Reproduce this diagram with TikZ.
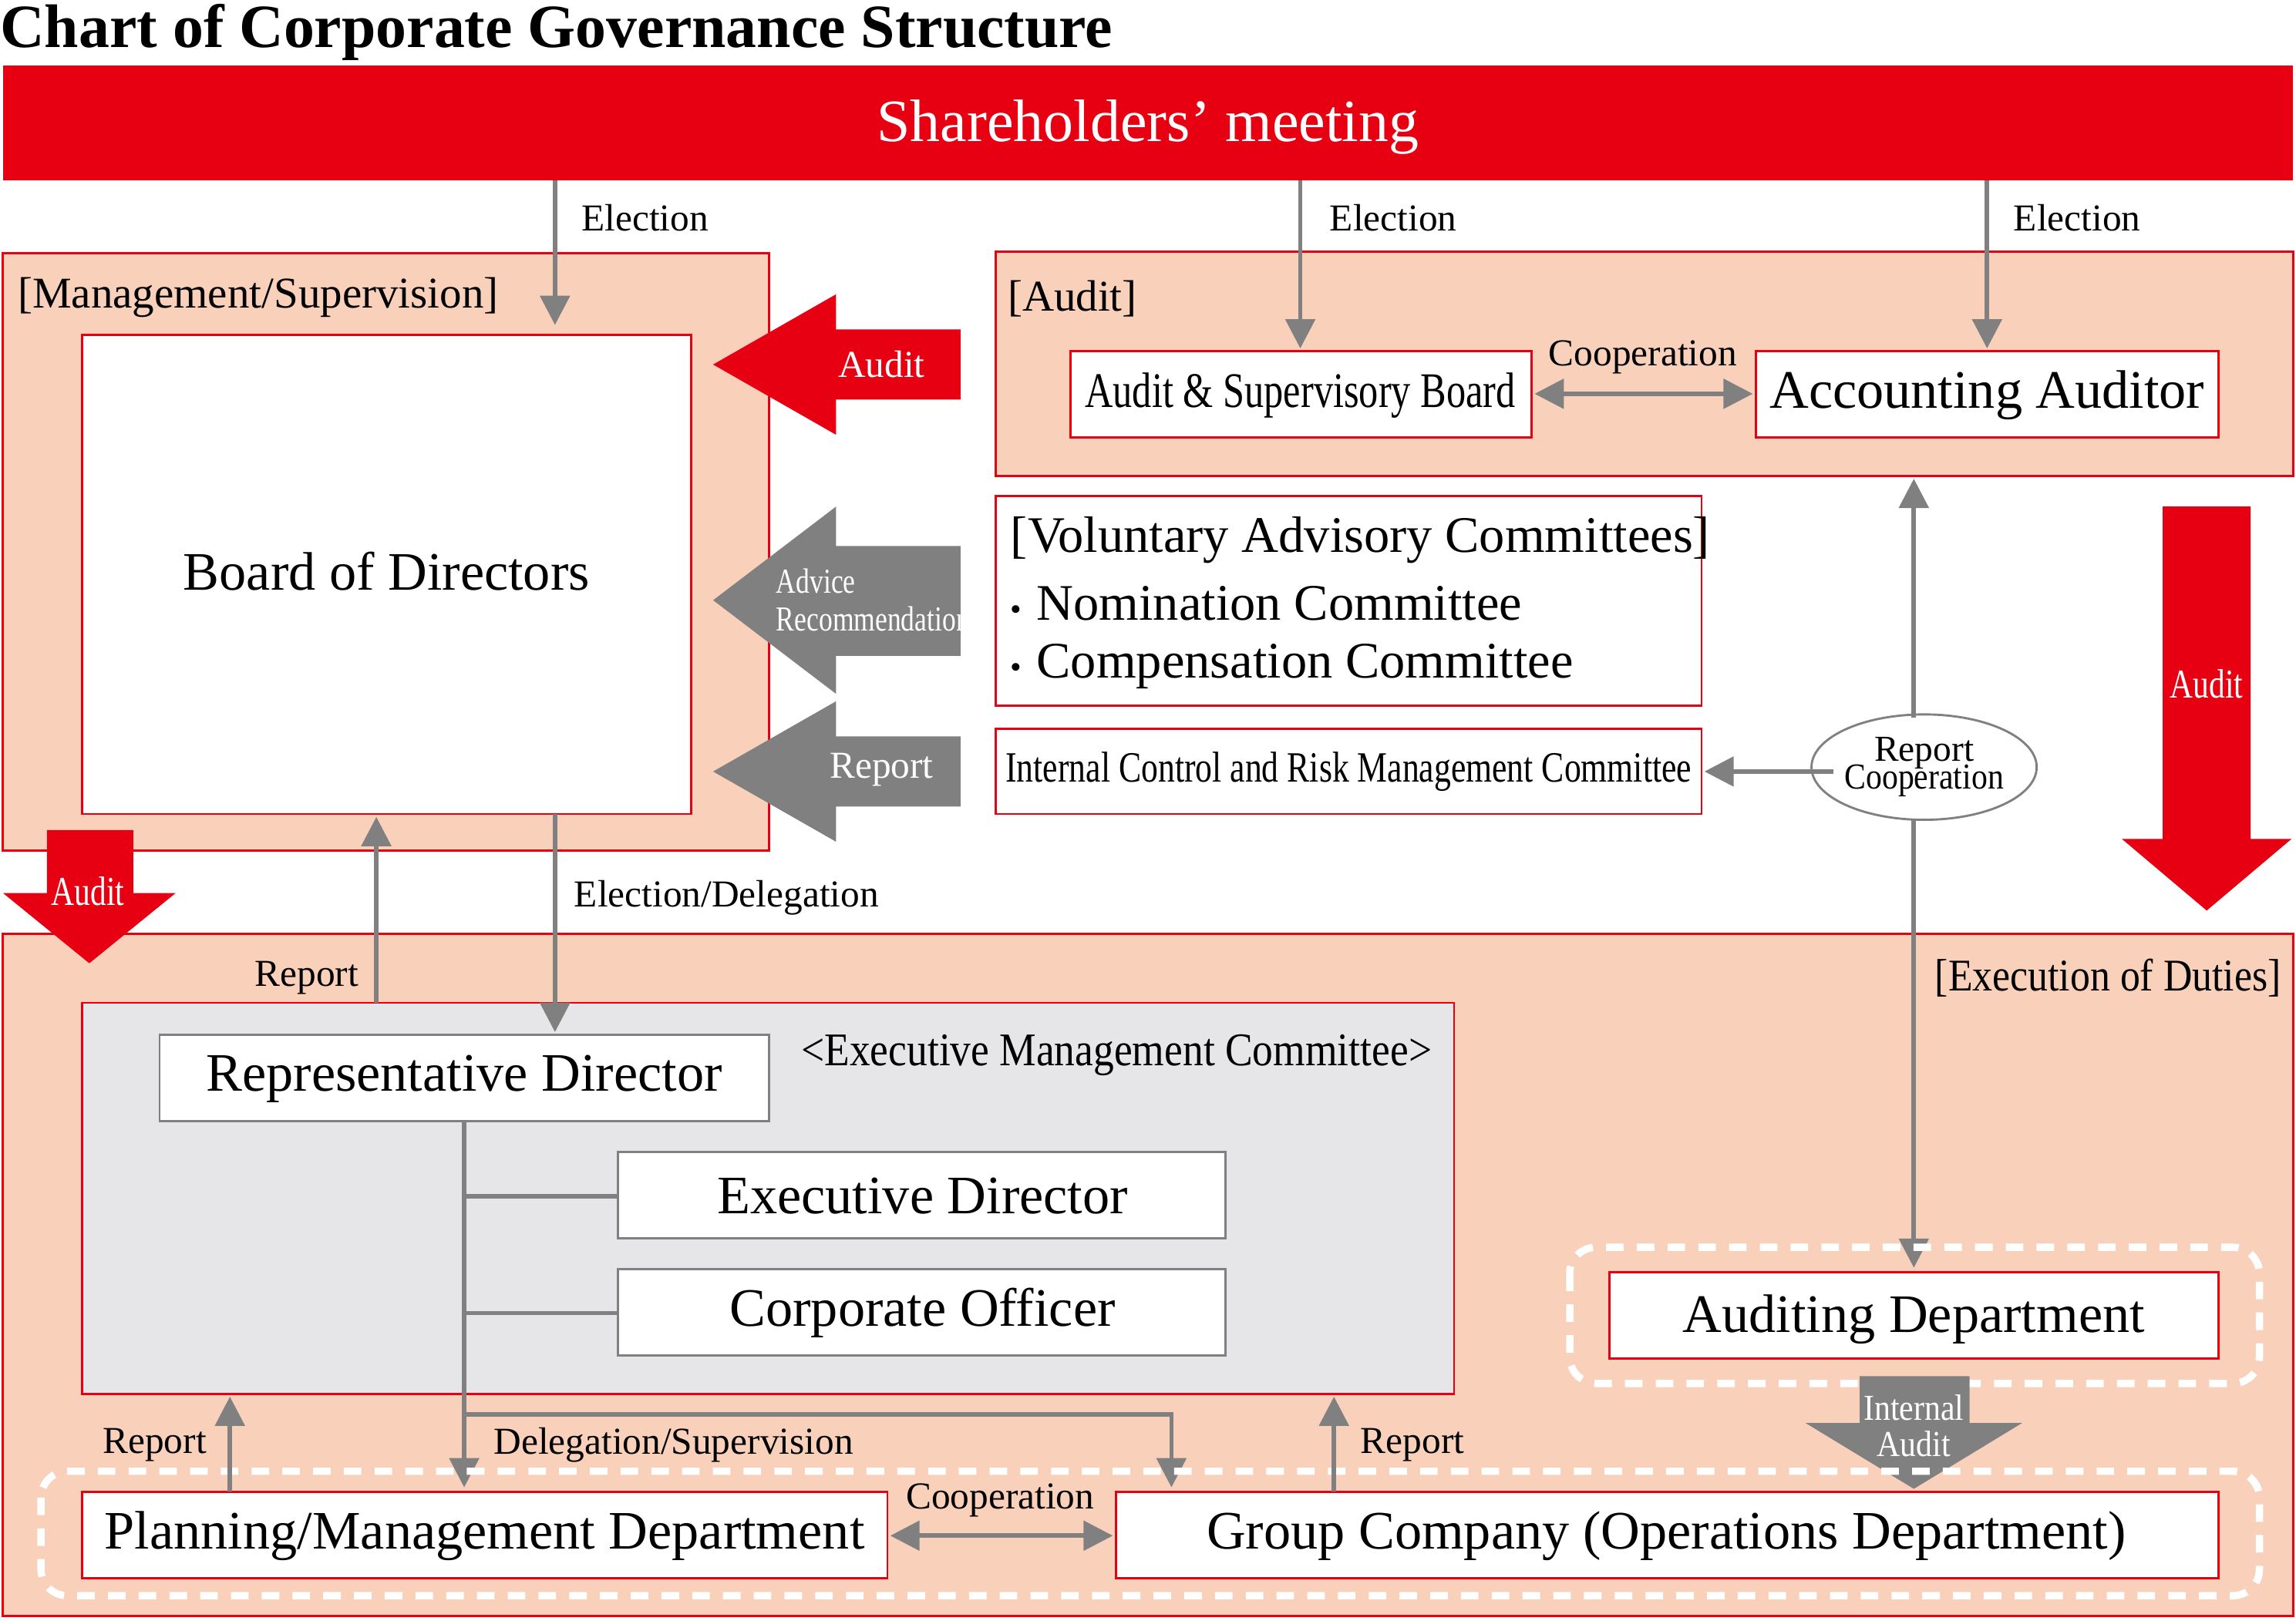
\documentclass[tikz,border=0pt]{standalone}
\usepackage{fontspec}
\setmainfont{Liberation Serif}
\newfontfamily\cond{Liberation Serif}[FakeStretch=0.78]
\newfontfamily\semi{Liberation Serif}[FakeStretch=0.88]
\usetikzlibrary{arrows.meta,shapes.geometric}
\definecolor{cred}{HTML}{E60012}
\definecolor{salmon}{HTML}{F9D0BA}
\definecolor{cgray}{HTML}{808080}
\definecolor{lgray}{HTML}{E6E6E9}
\newcommand{\fs}[1]{\fontsize{#1pt}{#1pt}\selectfont}
\tikzset{
 panel/.style={draw=cred,fill=salmon,line width=1.5pt},
 wbox/.style={draw=cred,fill=white,line width=1.5pt},
 gbox/.style={draw=cgray,fill=white,line width=1.5pt},
 lab/.style={font=\fs{26},inner sep=0pt},
 btxt/.style={font=\fs{37}},
 conn/.style={draw=cgray,line width=3pt,-{Triangle[length=20pt,width=20pt]}},
 dconn/.style={draw=cgray,line width=3pt,{Triangle[length=20pt,width=20pt]}-{Triangle[length=20pt,width=20pt]}},
 line/.style={draw=cgray,line width=3pt},
 wdash/.style={draw=white,line width=5pt,dash pattern=on 12pt off 9pt,rounded corners=18pt},
}
\begin{document}
\begin{tikzpicture}[x=1pt,y=-1pt]
\useasboundingbox[fill=white] (0,0) rectangle (1568,1107);
\node[anchor=west,font=\bfseries\fs{42},inner sep=0pt] (title) at (0,22) {Chart of Corporate Governance Structure};
\fill[cred] (2,45) rectangle (1566,123);
\node[text=white,font=\fs{41}] (sh) at (784,87) {Shareholders’ meeting};
% panels
\draw[panel] (2,173) rectangle (525,581);
\draw[panel] (680,172) rectangle (1566,325);
\draw[panel] (2,638) rectangle (1566,1104);
\node[anchor=west,font=\fs{30},inner sep=0pt] (mgl) at (12,203) {[Management/Supervision]};
\node[anchor=west,font=\fs{30},inner sep=0pt] (aul) at (688,204) {[Audit]};
\node[anchor=east,font=\semi\fs{31},inner sep=0pt] (exl) at (1558,668) {[Execution of Duties]};
% board
\draw[wbox] (56,229) rectangle (472,556);
\node[btxt] (bod) at (264,390) {Board of Directors};
\coordinate (bodB1) at (379,556); \coordinate (bodB2) at (257,556);
% audit boxes
\draw[wbox] (731,240) rectangle (1046,299);
\node[font=\cond\fs{34}] (asb) at (888,270) {Audit \& Supervisory Board};
\draw[wbox] (1199,240) rectangle (1515,299);
\node[btxt] (aa) at (1357,270) {Accounting Auditor};
\draw[dconn] (1048,269) -- (1197,269);
\node[lab] (coop1) at (1122,244) {Cooperation};
% elections
\draw[conn] (379,123) -- (379,222); \node[lab,anchor=west] (e1) at (397,149) {Election};
\draw[conn] (888,123) -- (888,238); \node[lab,anchor=west] (e2) at (908,149) {Election};
\draw[conn] (1357,123) -- (1357,238); \node[lab,anchor=west] (e3) at (1375,149) {Election};
% big left arrows
\fill[cred] (487,249) -- (571,201) -- (571,225) -- (656,225) -- (656,273) -- (571,273) -- (571,297) -- cycle;
\node[text=white,font=\fs{26}] (au1) at (602,249) {Audit};
\fill[cgray] (487,410) -- (571,346) -- (571,373) -- (656,373) -- (656,448) -- (571,448) -- (571,474) -- cycle;
\node[text=white,font=\cond\fs{24},align=left,anchor=west,inner sep=0pt] (adv) at (530,410) {Advice\\[2pt]Recommendation};
\fill[cgray] (487,527) -- (571,479) -- (571,503) -- (656,503) -- (656,551) -- (571,551) -- (571,575) -- cycle;
\node[text=white,font=\fs{26}] (rep1) at (602,526) {Report};
% committees
\draw[wbox] (680,339) rectangle (1162,482);
\node[anchor=west,font=\fs{35},inner sep=0pt] (vac) at (690,369) {[Voluntary Advisory Committees]};
\node[anchor=west,font=\fs{35},inner sep=0pt] (nc) at (690,412) {{\fs{22}\textbullet}\hspace{10pt}Nomination Committee};
\node[anchor=west,font=\fs{35},inner sep=0pt] (cc) at (690,455) {{\fs{22}\textbullet}\hspace{10pt}Compensation Committee};
\draw[wbox] (680,498) rectangle (1162,556);
\node[font=\cond\fs{29.5}] (icr) at (921,527) {Internal Control and Risk Management Committee};
\node[draw=cgray,fill=white,line width=1.5pt,ellipse,minimum width=124pt,minimum height=72pt,inner sep=0pt,align=center,font=\fs{25}] (rc) at (1314,524) {Report\\[-6pt]{\semi Cooperation}};
\coordinate (rcw) at (1252,527);
\draw[conn] (rcw) -- (1164,527);
\draw[conn] (1307,490) -- (1307,327);
\draw[conn] (1307,559) -- (1307,866);
% red down arrows
\fill[cred] (1477,346) -- (1537,346) -- (1537,573) -- (1565,573) -- (1507,622) -- (1449,573) -- (1477,573) -- cycle;
\node[text=white,font=\cond\fs{28}] (au2) at (1507,467) {Audit};
\fill[cred] (32,567) -- (91,567) -- (91,610) -- (120,610) -- (61,658) -- (2,610) -- (32,610) -- cycle;
\node[text=white,font=\cond\fs{28}] (au3) at (60,609) {Audit};
% exec committee
\draw[draw=cred,fill=lgray,line width=1.5pt] (56,685) rectangle (993,952);
\node[anchor=east,font=\semi\fs{32},inner sep=0pt] (emc) at (978,721) {<Executive Management Committee>};
\draw[gbox] (109,707) rectangle (525,766);
\node[btxt] (rd) at (317,737) {Representative Director};
\draw[gbox] (422,787) rectangle (837,846);
\node[btxt] (ed) at (630,817) {Executive Director};
\draw[gbox] (422,867) rectangle (837,926);
\node[btxt] (co) at (630,897) {Corporate Officer};
\draw[line] (317,817) -- (422,817);
\draw[line] (317,897) -- (422,897);
\draw[conn] (317,766) -- (317,1016);
\draw[conn] (317,966) -- (800,966) -- (800,1016);
\node[lab,anchor=west] (ds) at (337,987) {Delegation/Supervision};
\draw[conn] (bodB1) -- (379,705);
\node[lab,anchor=west] (edl) at (392,613) {Election/Delegation};
\draw[conn] (257,685) -- (257,558);
\node[lab,anchor=east] (rp2) at (245,668) {Report};
% auditing dept
\draw[wdash] (1072,852) rectangle (1543,945);
\draw[wbox] (1099,869) rectangle (1515,928);
\node[btxt] (ad) at (1307,901) {Auditing Department};
\fill[cgray] (1270,940) -- (1345,940) -- (1345,972) -- (1381,972) -- (1307,1017) -- (1233,972) -- (1270,972) -- cycle;
\node[text=white,font=\semi\fs{25},align=center,inner sep=0pt] (ia) at (1307,974) {Internal\\[0pt]Audit};
% bottom
\draw[wdash] (28,1005) rectangle (1543,1090);
\draw[wbox] (56,1019) rectangle (606,1078);
\node[btxt] (pm) at (331,1049) {Planning/Management Department};
\draw[wbox] (762,1019) rectangle (1515,1078);
\node[btxt] (gc) at (1138,1049) {Group Company (Operations Department)};
\draw[dconn] (608,1049) -- (760,1049);
\node[lab] (coop2) at (683,1025) {Cooperation};
\draw[conn] (157,1019) -- (157,954);
\node[lab,anchor=west] (rp3) at (70,987) {Report};
\draw[conn] (911,1019) -- (911,954);
\node[lab,anchor=west] (rp4) at (929,987) {Report};
\end{tikzpicture}
\end{document}
